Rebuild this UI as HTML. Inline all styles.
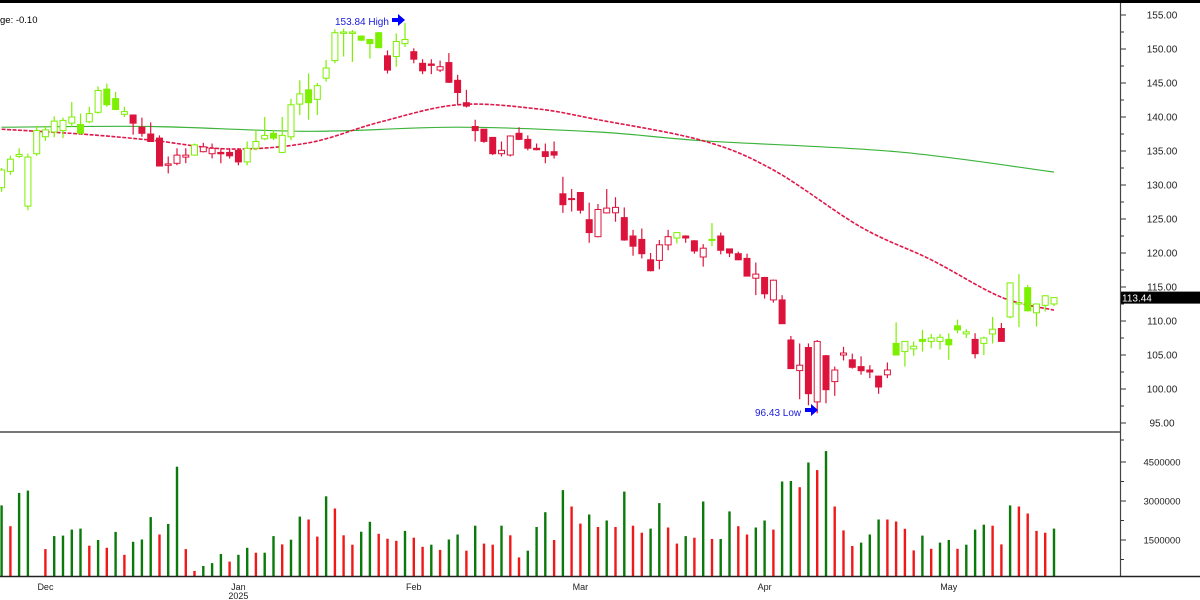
<!DOCTYPE html>
<html><head><meta charset="utf-8"><style>
html,body{margin:0;padding:0;background:#fff;}
svg{display:block;font-family:"Liberation Sans",Arial,sans-serif;}
</style></head><body>
<svg id="chart" width="1200" height="600" viewBox="0 0 1200 600" xmlns="http://www.w3.org/2000/svg">
<rect x="0" y="0" width="1200" height="600" fill="#fff"/>
<rect x="0" y="0" width="1200" height="3" fill="#000"/>
<text x="0" y="23" font-size="9.5" fill="#000">ge: -0.10</text>
<g id="volG"></g>
<g id="maG"></g>
<g id="candleG"></g>
<g id="axisG"></g>
<text x="335" y="25" font-size="10" fill="#1a1adc">153.84 High</text>
<path d="M392,18 h6 v-4 l7,6 l-7,6 v-4 h-6 z" fill="#0000ff"/>
<text x="755" y="416" font-size="10" fill="#1a1adc">96.43 Low</text>
<path d="M805,408 h6 v-4 l7,6 l-7,6 v-4 h-6 z" fill="#0000ff"/>
</svg>
<script>
const open=[129.6,132.0,134.2,126.9,134.6,137.1,137.8,138.0,139.1,138.9,139.3,140.7,144.1,142.7,140.4,140.3,138.5,137.5,136.9,132.9,133.2,134.1,134.4,134.9,134.6,134.8,134.8,135.1,133.4,135.4,136.8,137.6,134.8,137.1,141.9,144.0,142.6,145.7,148.3,152.3,152.3,151.9,151.4,152.4,149.0,148.9,150.8,149.6,147.9,147.8,146.9,148.0,145.4,142.1,138.6,138.2,137.0,134.6,134.4,137.6,136.7,135.4,134.9,134.9,128.7,128.0,128.9,124.9,122.4,125.9,125.9,125.2,122.5,122.0,119.0,118.9,121.2,122.2,122.5,121.8,119.4,121.9,122.5,120.6,119.9,119.2,116.3,116.4,113.1,113.1,107.2,102.7,106.1,98.1,104.9,101.1,105.0,104.3,103.3,102.8,101.9,102.1,106.7,105.5,105.9,107.3,107.0,107.0,107.3,109.3,108.1,107.3,106.7,108.1,108.9,110.6,112.5,114.9,111.2,112.3,112.5];
const high=[132.5,134.3,135.4,134.6,138.7,138.7,140.1,139.9,142.2,140.5,141.5,144.5,144.9,143.7,141.5,140.3,139.9,139.2,137.3,134.2,135.4,135.4,136.1,136.2,136.1,135.4,135.4,135.4,136.4,138.1,140.0,138.1,140.0,142.7,145.4,146.4,145.0,148.4,152.9,153.0,152.8,152.0,151.5,152.5,149.8,152.3,153.84,150.1,148.5,148.5,148.3,149.4,146.2,144.0,139.6,138.2,137.0,136.4,137.3,138.5,137.3,136.1,136.1,136.4,131.2,129.4,128.9,127.4,127.2,129.4,128.2,126.7,123.4,123.6,120.0,121.9,123.4,123.0,122.6,121.9,121.3,124.4,123.0,120.6,120.2,119.9,118.6,116.5,116.1,113.8,107.8,106.7,106.7,107.2,105.0,103.3,106.2,105.2,104.8,103.5,101.9,103.9,109.8,107.0,107.0,108.7,108.1,108.1,108.2,110.2,108.8,108.2,107.7,110.6,109.7,115.6,116.9,115.3,112.6,113.8,113.5];
const low=[129.0,131.5,134.0,126.3,134.3,136.5,137.0,136.9,138.5,137.4,139.1,140.5,141.5,141.0,140.0,137.4,137.1,136.4,132.8,131.7,132.9,133.2,134.3,134.8,133.9,133.2,133.9,132.9,132.9,135.1,136.6,136.6,134.7,136.6,140.3,139.6,140.3,145.2,147.9,148.9,148.1,151.2,148.6,150.1,146.4,147.4,150.3,147.9,146.3,146.3,146.6,145.0,141.8,141.4,136.4,136.2,134.4,134.2,134.2,136.6,135.1,135.1,133.2,133.9,125.9,126.1,125.8,121.5,122.3,125.8,124.6,121.8,119.6,119.2,117.3,117.6,120.4,121.4,121.5,119.9,118.0,121.0,119.8,119.4,119.0,116.6,113.8,113.3,112.7,109.6,103.0,98.5,97.6,96.43,97.9,99.0,104.2,103.0,102.1,101.6,99.3,101.6,105.0,103.3,104.9,105.5,106.0,105.8,104.3,108.2,107.5,104.5,105.0,106.7,107.0,110.4,109.1,111.4,109.2,111.4,112.2];
const close=[132.2,133.8,134.5,134.1,138.0,138.1,139.4,139.5,140.0,137.6,140.5,143.9,141.8,141.1,140.8,139.1,137.6,136.4,132.8,133.1,134.4,134.4,135.9,135.6,135.4,134.6,134.3,133.4,135.4,136.4,137.3,136.9,137.3,141.8,143.4,142.1,144.6,147.2,152.4,152.5,152.5,151.3,150.8,150.2,146.9,151.1,151.4,148.5,146.8,147.6,147.4,145.1,143.6,141.6,138.0,136.4,134.6,135.1,137.2,136.7,135.4,135.2,134.2,134.4,127.1,127.9,126.3,123.0,126.4,126.6,126.7,121.9,121.0,119.9,117.4,121.2,122.4,123.0,122.2,120.3,120.7,122.0,120.4,120.0,119.0,116.6,116.9,114.0,116.0,109.6,103.0,103.5,99.3,107.0,99.9,102.8,105.3,103.2,102.7,102.5,100.3,102.8,105.0,107.0,106.3,107.0,107.5,107.6,106.5,108.7,108.4,105.2,107.5,108.8,107.0,115.6,112.7,111.5,112.5,113.7,113.44];
const candleType=("GGGGGGGGGg"+"GGggGRRRRr"+"rrGrrRRRGG"+"GgGGGgGGGG"+"GgggRGGRRR"+"rRRRRRRrrR"+"RRRRRRRRrr"+"rRRRRrrGRR"+"rGRRRRrRrR"+"RrRrRrrRRR"+"RrgGGgGGgg"+"GRGGRGGgGG"+"G").split('');
const volume=[2.83,2.03,3.31,3.40,0,1.15,1.65,1.67,1.90,1.94,1.28,1.50,1.20,1.81,0.93,1.43,1.52,2.38,1.71,2.12,4.32,1.15,0.31,0.50,0.61,0.96,0.67,0.93,1.20,1.01,1.01,1.65,1.33,1.51,2.40,2.29,1.63,3.18,2.71,1.68,1.32,1.82,2.20,1.74,1.55,1.47,1.85,1.59,1.24,1.32,1.12,1.52,1.71,1.09,2.05,1.36,1.32,2.05,1.68,0.83,1.09,2.00,2.57,1.50,3.42,2.79,2.13,2.48,2.00,2.25,2.00,3.36,2.05,1.78,1.94,2.92,1.98,1.36,1.65,1.59,2.98,1.54,1.54,2.60,2.03,1.71,1.98,2.25,1.90,3.75,3.77,3.53,4.48,4.19,4.92,2.79,1.87,1.27,1.40,1.71,2.29,2.29,2.21,1.93,1.10,1.67,1.16,1.40,1.50,1.16,1.32,1.90,2.09,2.05,1.33,2.83,2.79,2.52,1.85,1.78,1.94];
const volColor=("GRGG"+"G"+"RGGGGRGRGR"+"GGGRGGRRGG"+"GRGGRGGRGG"+"RRGRRRGGRR"+"RGRRGRGGRG"+"RRGRRGGGRG"+"RRGRGRGRRG"+"GRRGRGRGGR"+"RGGRGGRGRG"+"RRRGGGRRRR"+"GRGGRGGGRR"+"GRRRRG").split('');
const maFastIdx=[0,9,17,26,35,43,52,61,68,80,88,98,106,114,120];
const maFastVal=[138.2,137.5,136.6,135.3,136.2,139.2,141.8,141.2,139.6,136.5,132.2,123.8,119.0,113.5,111.6];
const maSlowIdx=[0,17,35,52,68,80,102,120];
const maSlowVal=[138.5,138.6,137.9,138.5,137.8,136.5,134.9,131.9];
const priceTicks=[155,150,145,140,135,130,125,120,115,110,105,100,95];
const volTicks=[4.5,3.0,1.5];
const volTickLabels=["4500000","3000000","1500000"];
const monthIdx=[5,27,47,66,87,108];
const monthLabels=["Dec","Jan","Feb","Mar","Apr","May"];
const lastPrice=113.44;

const NS="http://www.w3.org/2000/svg";
const xS=i=>1.6+i*8.77;
const yP=p=>15+(155-p)*6.8;
const yV=v=>Math.min(576,579-v*26);
function mk(tag,attrs,parent){const e=document.createElementNS(NS,tag);for(const k in attrs)e.setAttribute(k,attrs[k]);parent.appendChild(e);return e;}
const volG=document.getElementById('volG'),candleG=document.getElementById('candleG'),maG=document.getElementById('maG'),axisG=document.getElementById('axisG');

volume.forEach((v,i)=>{if(v<=0)return;
 const r=mk('rect',{x:(xS(i)-1.2).toFixed(1),y:yV(v).toFixed(1),width:2.4,height:(576-yV(v)).toFixed(1),fill:volColor[i]==='G'?'#0a7a0a':'#f01818'},volG);
 
 });

function smooth(idx,vals){const pts=idx.map((k,j)=>[xS(k),yP(vals[j])]);let d=`M${pts[0][0]},${pts[0][1]}`;
 for(let j=0;j<pts.length-1;j++){const p0=pts[j-1]||pts[j],p1=pts[j],p2=pts[j+1],p3=pts[j+2]||p2;
 const c1=[p1[0]+(p2[0]-p0[0])/6,p1[1]+(p2[1]-p0[1])/6],c2=[p2[0]-(p3[0]-p1[0])/6,p2[1]-(p3[1]-p1[1])/6];
 d+=` C${c1[0].toFixed(1)},${c1[1].toFixed(1)} ${c2[0].toFixed(1)},${c2[1].toFixed(1)} ${p2[0].toFixed(1)},${p2[1].toFixed(1)}`;}return d;}
const ms=mk('path',{d:smooth(maSlowIdx,maSlowVal),fill:'none',stroke:'#3cb43c','stroke-width':1.2},maG);


const mf=mk('path',{d:smooth(maFastIdx,maFastVal),fill:'none',stroke:'#e0174a','stroke-width':1.6,'stroke-dasharray':'4,1.5'},maG);



open.forEach((o,i)=>{const c=close[i],t=candleType[i],col=t.toUpperCase()==='G'?'#7cf000':'#dc143c',x=xS(i);
 const g=mk('g',{},candleG);
 
 
 mk('line',{x1:x,x2:x,y1:yP(high[i]),y2:yP(low[i]),stroke:col,'stroke-width':1.2},g);
 const top=yP(Math.max(o,c)),bot=yP(Math.min(o,c));const filled=c<o;
 mk('rect',{x:(x-3).toFixed(1),y:top.toFixed(1),width:6,height:Math.max(1,bot-top).toFixed(1),fill:filled?col:'#fff',stroke:col,'stroke-width':1},g);});

const ax=mk('line',{x1:1120.5,x2:1120.5,y1:3,y2:577,stroke:'#444','stroke-width':1.2},axisG);


const sep=mk('line',{x1:0,x2:1120,y1:432,y2:432,stroke:'#777','stroke-width':2},axisG);


const bl=mk('line',{x1:0,x2:1200,y1:576.5,y2:576.5,stroke:'#222','stroke-width':1.5},axisG);


priceTicks.forEach(p=>{const y=yP(p);
 mk('line',{x1:1121,x2:1126,y1:y,y2:y,stroke:'#333'},axisG);
 mk('line',{x1:1121,x2:1124,y1:yP(p-2.5),y2:yP(p-2.5),stroke:'#333'},axisG);
 const t=mk('text',{x:1162,y:y+3.5,'font-size':10,'text-anchor':'middle',fill:'#222'},axisG);t.textContent=p.toFixed(2);
 
 });
volTicks.forEach((v,j)=>{const y=yV(v);
 mk('line',{x1:1121,x2:1126,y1:y,y2:y,stroke:'#333'},axisG);
 mk('line',{x1:1121,x2:1124,y1:yV(v-0.75),y2:yV(v-0.75),stroke:'#333'},axisG);
 const t=mk('text',{x:1162,y:y+3.5,'font-size':9.5,'text-anchor':'middle',fill:'#222'},axisG);t.textContent=volTickLabels[j];
 
 });
monthIdx.forEach((k,j)=>{const t=mk('text',{x:xS(k),y:590,'font-size':9,'text-anchor':'middle',fill:'#222'},axisG);t.textContent=monthLabels[j];
 
 });
const yr=mk('text',{x:xS(27),y:599,'font-size':9,'text-anchor':'middle',fill:'#222'},axisG);yr.textContent='2025';


const ly=yP(lastPrice);
const lb=mk('rect',{x:1121,y:ly-6,width:79,height:12,fill:'#000'},axisG);


const lt=mk('text',{x:1122,y:ly+4,'font-size':10,fill:'#fff'},axisG);lt.textContent=lastPrice.toFixed(2);


</script>
</body></html>
